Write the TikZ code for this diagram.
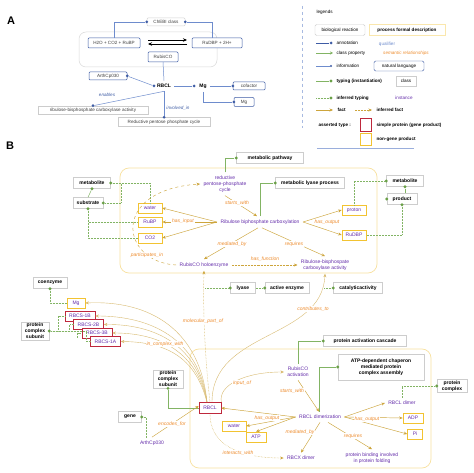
\documentclass[tikz,border=0pt]{standalone}
\usepackage{fontspec}
\setmainfont{Liberation Sans}
\usetikzlibrary{arrows.meta,calc}
\definecolor{ablue}{RGB}{62,92,165}
\definecolor{lblue}{RGB}{110,140,205}
\definecolor{gdot}{RGB}{105,160,70}
\definecolor{gline}{RGB}{130,180,100}
\definecolor{orng}{RGB}{238,140,45}
\definecolor{fcol}{RGB}{205,165,60}
\definecolor{fcl}{RGB}{218,188,115}
\definecolor{purp}{RGB}{100,45,170}
\definecolor{ybord}{RGB}{242,195,50}
\definecolor{rbord}{RGB}{190,40,60}
\definecolor{cont}{RGB}{248,225,160}
\definecolor{gbord}{RGB}{205,205,205}
\newcommand\myfs{\fontsize{5}{5.8}\selectfont}
\newcommand\mysm{\fontsize{4.6}{5.4}\selectfont}
\tikzset{
 abox/.style={draw=ablue, rounded corners=1pt, fill=white, inner sep=1.2pt, line width=0.5pt, text=black!75, font=\mysm},
 lbox/.style={draw=gbord, fill=white, inner sep=1.5pt, font=\myfs\bfseries, align=center, minimum height=11, line width=0.5pt},
 ybox/.style={draw=ybord, line width=0.7pt, fill=white, text=purp, minimum width=24, minimum height=10, inner sep=1pt},
 rbox/.style={draw=rbord, line width=0.7pt, fill=white, text=purp, minimum width=30, minimum height=10, inner sep=1pt},
 inst/.style={text=purp, align=center},
 lbl/.style={text=orng, font=\myfs\itshape, inner sep=0.8pt},
 gdotn/.style={circle, fill=gdot, inner sep=0, minimum size=3.2},
 bdotn/.style={circle, fill=ablue, inner sep=0, minimum size=3},
 aline/.style={draw=lblue, line width=0.5},
 gl/.style={draw=gline, line width=0.5},
 gdl/.style={draw=gline, line width=0.5, densely dotted},
 fact/.style={draw=fcol, line width=0.45, -{Stealth[length=3.5pt,width=3pt]}},
 ifact/.style={fact, densely dotted},
 fan/.style={draw=fcl, line width=0.4, -{Stealth[length=3.5pt,width=3pt,fill=fcol]}},
 rxn/.style={draw=black, line width=0.7, -{Stealth[length=4pt,width=3.5pt]}},
 cnt/.style={draw=cont, line width=0.7, rounded corners=9pt, inner sep=0},
}
\begin{document}
\begin{tikzpicture}[x=1pt,y=-1pt,font=\myfs]
\fill[white] (0,0) rectangle (474,473);
\path[use as bounding box] (0,0) rectangle (474,473);

% ================= Panel A =================
\node[font=\fontsize{11}{12}\selectfont\bfseries] (labA) at (11,21) {A};
\node[draw=gray!30, rounded corners=7pt, minimum width=138, minimum height=35, inner sep=0, line width=0.5] (ctA) at (148,49.5) {};
\node[abox, draw=gray!35, minimum width=38, minimum height=8] (chebi) at (166,22) {ChEBI class};
\node[bdotn] (chl) at (chebi.west) {};
\node[bdotn] (chr) at (chebi.east) {};
\node[abox, minimum width=52, minimum height=10] (h2o) at (114,43) {H2O + CO2 + RuBP};
\node[abox, minimum width=50, minimum height=10] (rudA) at (217,43) {RuDBP + 2H+};
\node[abox, minimum width=30, minimum height=10] (rubA) at (163,57) {RubisCO};
\draw[aline] (chl) -| (h2o.north);
\draw[aline] (chr) -| ([xshift=-5]rudA.north);
\coordinate (r1s) at (148,40); \coordinate (r1e) at (187,40);
\coordinate (r2s) at (187,44); \coordinate (r2e) at (148,44);
\draw[rxn] (r1s) -- (r1e);
\draw[rxn] (r2s) -- (r2e);
\node[font=\myfs\bfseries] (rbclA) at (164,86) {RBCL};
\node[bdotn] (rbclAd) at (154,86) {};
\draw[aline] (rubA.south) -- (rbclA.north);
\node[abox, minimum width=38, minimum height=8] (arth) at (108,76) {ArthCp030};
\node[bdotn] (arthd) at (arth.east) {};
\draw[aline] (arthd) -- (rbclAd);
\node[bdotn] (mgAd) at (194,86) {};
\node[font=\myfs\bfseries] (mgA) at (203,86) {Mg};
\draw[aline] (rbclA.east) -- (mgAd);
\node[abox, minimum width=32, minimum height=8] (cof) at (249,86) {cofactor};
\node[bdotn] (cofd) at (cof.west) {};
\draw[aline] (mgA.east) -- (cofd);
\node[abox, minimum width=20, minimum height=9] (mgbox) at (244,102) {Mg};
\node[bdotn] (mgboxd) at (mgbox.west) {};
\draw[aline] (mgA.south) |- (mgboxd);
\node[abox, draw=gray!40, minimum width=110, minimum height=8, rounded corners=0pt] (rbca) at (93,110) {ribulose-bisphosphate carboxylase activity};
\node[bdotn] (rbcad) at (rbca.north) {};
\draw[aline] (rbclA.south) -- (rbcad);
\node[abox, draw=gray!40, minimum width=92, minimum height=9, rounded corners=0pt] (rpcA) at (164,122) {Reductive pentose phosphate cycle};
\node[bdotn] (rpcAd) at (rpcA.north) {};
\draw[aline] (rbclA.south) -- (rpcAd);
\node[text=ablue, font=\mysm\itshape] (enl) at (107,95) {enables};
\node[text=ablue, font=\mysm\itshape] (invl) at (178,108) {involved\_in};

% ================= Legend =================
\draw[lblue!60, dashed, line width=0.4] (302,6) -- (302,128);
\node[anchor=west, font=\mysm] (leg) at (313,12) {legends};
\node[draw=gbord, rounded corners=1.5pt, minimum width=50, minimum height=11, inner sep=0, font=\mysm] (lbio) at (340,30) {biological reaction};
\node[draw=ybord!40, minimum width=76, minimum height=11, inner sep=0, font=\mysm\bfseries] (lpfd) at (407,30) {process formal description};
\coordinate (la1) at (316,43); \node[bdotn] (la1d) at (331,43) {};
\draw[draw=ablue, line width=0.5] (la1) -- (la1d);
\node[anchor=west, font=\mysm] (la1t) at (333,43) {annotation};
\node[text=lblue, font=\mysm] (lqual) at (387,44) {qualifier};
\coordinate (la2) at (316,53); \coordinate (la2e) at (333,53);
\draw[draw=gline, line width=0.5, -{Stealth[length=3pt,width=3pt,fill=gdot]}] (la2) -- (la2e);
\node[anchor=west, font=\mysm] (la2t) at (333,53) {class property};
\node[text=orng, font=\mysm\itshape] (lsem) at (406,53) {semantic relationships};
\coordinate (la3) at (316,66); \node[bdotn, minimum size=2.4] (la3d) at (331,66) {};
\draw[draw=lblue, line width=0.5] (la3) -- (la3d);
\node[anchor=west, font=\mysm] (la3t) at (333,66) {information};
\node[draw=ablue, rounded corners=1.5pt, minimum width=50, minimum height=10, inner sep=0, font=\mysm] (lnat) at (399,66) {natural language};
\coordinate (la4) at (316,81); \node[gdotn] (la4d) at (331,81) {};
\draw[gl] (la4) -- (la4d);
\node[anchor=west, font=\mysm\bfseries] (la4t) at (333,81) {typing (instantiation)};
\node[draw=gbord, minimum width=20, minimum height=10, inner sep=0, font=\mysm] (lcls) at (406,81) {class};
\coordinate (la5) at (316,98); \node[gdotn] (la5d) at (331,98) {};
\draw[gdl] (la5) -- (la5d);
\node[anchor=west, font=\mysm\bfseries] (la5t) at (333,98) {inferred typing};
\node[text=purp, font=\mysm] (linst) at (404,98) {instance};
\coordinate (la6) at (316,110); \coordinate (la6e) at (333,110);
\draw[fact] (la6) -- (la6e);
\node[anchor=west, font=\mysm\bfseries] (la6t) at (334,110) {fact};
\coordinate (la7) at (355,110); \coordinate (la7e) at (372,110);
\draw[ifact] (la7) -- (la7e);
\node[anchor=west, font=\mysm\bfseries] (la7t) at (373,110) {inferred fact};
\node[anchor=west, font=\mysm\bfseries] (lass) at (315,125) {asserted type :};
\node[draw=rbord, line width=0.6, minimum width=11, minimum height=13, inner sep=0] (lred) at (365.5,124.5) {};
\node[anchor=west, font=\mysm\bfseries] (lredt) at (373,125) {simple protein (gene product)};
\node[draw=ybord, line width=0.6, minimum width=11, minimum height=12, inner sep=0] (lyel) at (365.5,139) {};
\node[anchor=west, font=\mysm\bfseries] (lyelt) at (373,139) {non-gene product};
\coordinate (lh1) at (317,148); \coordinate (lh2) at (414,148);
\draw[lblue!70, line width=0.5] (lh1) -- (lh2);

% ================= Panel B =================
\node[font=\fontsize{11}{12}\selectfont\bfseries] (labB) at (10,146) {B};
\node[cnt, minimum width=257, minimum height=105] (ctop) at (248.5,220.5) {};
\node[cnt, minimum width=241, minimum height=119] (cbot) at (310.5,408.5) {};

% top block
\node[lbox, minimum width=67] (mpw) at (270,158) {metabolic pathway};
\node[gdotn] (mpwd) at (mpw.west) {};
\node[inst] (rpc) at (225,184) {reductive\\pentose-phosphate\\cycle};
\draw[gl] (rpc.north) |- (mpwd);
\node[lbox, minimum width=69] (mlp) at (310,183) {metabolic lyase process};
\node[gdotn] (mlpd) at (mlp.west) {};
\node[inst] (rbc) at (260,222) {Ribulose biphosphate carboxylation};
\draw[gl] (rbc.north) |- (mlpd);
\draw[fact] (rpc.south) -- ([xshift=-3]rbc.north);
\node[lbl, fill=white] (sw1) at (237,203) {starts\_with};

\node[ybox] (water) at (150,208) {water};
\node[ybox] (rubp) at (150,222) {RuBP};
\node[ybox] (co2) at (150,238) {CO2};
\draw[fact] (rbc.west) -- (water.east);
\draw[fact] (rbc.west) -- (rubp.east);
\draw[fact] (rbc.west) -- (co2.east);
\node[lbl, fill=white] (hil) at (183,221) {has\_input};

\node[lbox, minimum width=37] (metL) at (92,183) {metabolite};
\node[gdotn] (metLe) at (metL.east) {};
\node[gdotn] (metLs) at (metL.south) {};
\node[lbox, minimum width=30] (sub) at (88,203) {substrate};
\node[gdotn] (sube) at (sub.east) {};
\node[gdotn] (subs) at (sub.south) {};
\coordinate (jn) at (121,183);
\draw[gl] (metLs) -- (sub.north);
\draw[gdl] (metLe) -| (water.north);
\draw[gdl] (sube) -| (jn);
\draw[gdl] (subs) |- (rubp.west);
\draw[gdl] ([xshift=4]subs) |- (co2.west);

\node[ybox] (proton) at (354,210) {proton};
\node[ybox] (rudB) at (354,235) {RuDBP};
\draw[fact] (rbc.east) -- (proton.west);
\draw[fact] (rbc.east) -- (rudB.west);
\node[lbl] (hol) at (327,222) {has\_output};
\node[lbox, minimum width=37] (metR) at (405,181) {metabolite};
\node[gdotn] (metRw) at (metR.west) {};
\node[gdotn] (metRs) at (metR.south) {};
\node[lbox, minimum width=30] (prod) at (402,199) {product};
\node[gdotn] (prodw) at (prod.west) {};
\node[gdotn] (prods) at (prod.south) {};
\draw[gl] (metRs) -- ([xshift=3]prod.north);
\draw[gdl] (metRw) -| (proton.north);
\draw[gdl] (prods) |- (rudB.east);

\node[inst] (holo) at (204,265) {RubisCO holoenzyme};
\node[inst] (act) at (325,265) {Ribulose-bisphospate\\carboxylase activity};
\draw[fact] ([xshift=-2]rbc.south) -- (holo.north);
\draw[fact] ([xshift=2]rbc.south) -- (act.north);
\node[lbl, fill=white] (mbl) at (232,244) {mediated\_by};
\node[lbl, fill=white] (rql) at (294,244) {requires};
\draw[ifact] (holo.east) -- (act.west);
\node[lbl] (hfl) at (265,259) {has\_function};
\draw[ifact, dashed] (holo.west) .. controls (120,262) and (110,190) .. (rpc.west);
\node[lbl, fill=white] (pil) at (147,255) {participates\_in};

\node[lbox, minimum width=25] (lyase) at (243,288) {lyase};
\node[gdotn] (lyasew) at (lyase.west) {};
\node[lbox, minimum width=44] (aenz) at (287,288) {active enzyme};
\node[gdotn] (aenzw) at (aenz.west) {};
\node[lbox, minimum width=49] (cata) at (358,288) {catalyticactivity};
\node[gdotn] (cataw) at (cata.west) {};
\coordinate (mpo) at (205,288);
\coordinate (ctb) at (324,288);
\draw[gdl] (mpo) -- (lyasew);
\draw[gdl] (lyase.east) -- (aenzw);
\draw[gdl] (ctb) -- (cataw);

% lower-left block
\node[lbox, minimum width=34] (coen) at (50,283) {coenzyme};
\node[gdotn] (coens) at (coen.south) {};
\node[lbox, align=center, minimum width=28] (pcs1) at (35,331) {protein\\complex\\subunit};
\node[gdotn] (pcs1e) at (pcs1.east) {};
\node[ybox, minimum width=18] (mgB) at (76,303) {Mg};
\node[rbox] (r1b) at (80,316) {RBCS-1B};
\node[rbox] (r2b) at (88.5,324.5) {RBCS-2B};
\node[rbox] (r3b) at (97,333) {RBCS-3B};
\node[rbox] (r1a) at (105.5,341.5) {RBCS-1A};
\draw[gdl] (coens) |- (mgB.west);
\draw[gdl] (pcs1e) -| ([xshift=-6]r1b.south west) |- (r1b.west);
\draw[gdl] (pcs1e) -| ([xshift=-4]r2b.south west) |- (r2b.west);
\draw[gdl] (pcs1e) -| ([xshift=-4]r3b.south west) |- (r3b.west);
\draw[gdl] (pcs1e) -| ([xshift=-4]r1a.west) -- (r1a.west);

% bottom block
\node[rbox, minimum width=22, minimum height=11] (rbclB) at (210,408) {RBCL};
\node[lbox, align=center, minimum width=30] (pcs2) at (168,379) {protein\\complex\\subunit};
\node[gdotn] (pcs2s) at (pcs2.south) {};
\draw[gl] (pcs2s) |- (rbclB.west);
\node[lbox, minimum width=23] (gene) at (130,417) {gene};
\node[gdotn] (genee) at (gene.east) {};
\node[inst] (arthB) at (152,443) {ArthCp030};
\draw[gdl] (genee) -| ([xshift=-6]arthB.north);
\draw[fact] (arthB.north) -- ([yshift=2]rbclB.west);
\node[lbl, fill=white] (efl) at (172,424) {encodes\_for};

% fan from RBCL
\draw[fan] ([xshift=-3]rbclB.north) .. controls (200,330) and (150,300) .. (mgB.east);
\draw[fan] ([xshift=-3]rbclB.north) .. controls (199,338) and (150,316) .. (r1b.east);
\draw[fan] ([xshift=-3]rbclB.north) .. controls (198,345) and (155,324) .. (r2b.east);
\draw[fan] ([xshift=-3]rbclB.north) .. controls (197,352) and (160,333) .. (r3b.east);
\draw[fan] ([xshift=-3]rbclB.north) .. controls (196,360) and (170,342) .. (r1a.east);
\node[lbl, fill=white] (icw) at (165,344) {in\_complex\_with};
\draw[ifact] (rbclB.north) .. controls (204,350) and (203,300) .. (holo.south);
\node[lbl, fill=white] (mpol) at (203,321) {molecular\_part\_of};
\draw[fan] ([xshift=2]rbclB.north) .. controls (212,330) and (322,340) .. (act.south);
\node[lbl, fill=white] (ctl) at (313,309) {contributes\_to};

\node[inst] (ract) at (298,372) {RubisCO\\activation};
\node[lbox, minimum width=83] (pac) at (365,341) {protein activation cascade};
\node[gdotn] (pacw) at (pac.west) {};
\draw[gl] (ract.north) |- (pacw);
\node[lbox, align=center, minimum width=86, minimum height=26] (atpd) at (381,367) {ATP-dependent chaperon\\mediated protein\\complex assembly};
\node[gdotn] (atpdw) at (atpd.west) {};
\node[inst] (dim) at (320,417) {RBCL dimerization};
\draw[gl] ([xshift=-1]dim.north) |- (atpdw);
\draw[fact] (ract.south) -- ([xshift=-1]dim.north);
\node[lbl, fill=white] (sw2) at (292,391) {starts\_with};
\draw[fan] (rbclB.north east) .. controls (218,385) and (245,372) .. (ract.west);
\node[lbl, fill=white] (iol) at (242,383) {input\_of};

\node[ybox] (waterB) at (234,426) {water};
\node[ybox, minimum width=20] (atp) at (256,437) {ATP};
\draw[fact] (dim.west) -- (rbclB.east);
\draw[fact] (dim.west) -- (waterB.east);
\draw[fact] (dim.west) -- (atp.north);
\node[lbl, fill=white] (hol2) at (267,418) {has\_output};

\node[inst] (rbcx) at (301,458) {RBCX dimer};
\draw[fact] (dim.south) -- (rbcx.north);
\node[lbl, fill=white] (mbl2) at (300,432) {mediated\_by};
\node[inst] (pbind) at (372,458) {protein binding involved\\in protein folding};
\draw[fact] ([xshift=8]dim.south) -- (pbind.north);
\node[lbl, fill=white] (rql2) at (353,436) {requires};
\draw[ifact] (rbclB.south) .. controls (210,448) and (245,458) .. (rbcx.west);
\node[lbl, fill=white] (iwl) at (238,453) {interacts\_with};

\node[inst] (rdim) at (402,403) {RBCL dimer};
\node[ybox, minimum width=20] (adp) at (413,418) {ADP};
\node[ybox, minimum width=15] (pi) at (415,434) {Pi};
\draw[fact] (dim.east) -- (rdim.west);
\draw[fact] (dim.east) -- (adp.west);
\draw[fact] (dim.east) -- (pi.west);
\node[lbl, fill=white] (hol3) at (367,419) {has\_output};
\node[lbox, align=center, minimum width=30] (pcx) at (452,386) {protein\\complex};
\node[gdotn] (pcxw) at (pcx.west) {};
\draw[gdl] (rdim.north) |- (pcxw);
\end{tikzpicture}
\end{document}
